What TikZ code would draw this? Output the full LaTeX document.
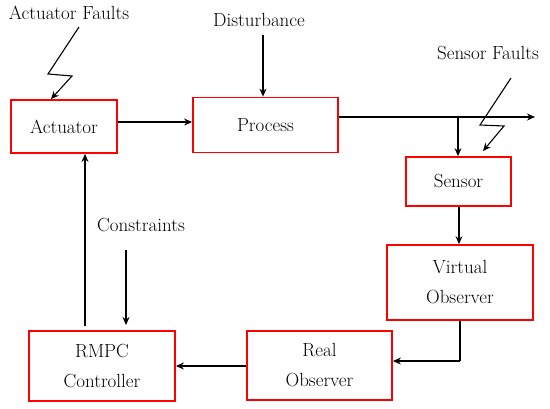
\documentclass[tikz,border=0pt]{standalone}
\usetikzlibrary{arrows.meta}
\begin{document}
\begin{tikzpicture}[x=1pt,y=-1pt,
  box/.style={draw=red, line width=1.8pt, align=center, inner sep=0pt, font=\fontsize{19}{30}\selectfont},
  lbl/.style={inner sep=0pt, font=\fontsize{19}{22}\selectfont},
  conn/.style={line width=1.1pt, -{Stealth[length=8pt,width=7pt]}},
  seg/.style={line width=1.1pt}]
\useasboundingbox (0,0) rectangle (550,408);
\node[box, minimum width=106pt, minimum height=53pt] (act) at (64,126.5) {Actuator};
\node[box, minimum width=145pt, minimum height=55pt] (proc) at (265.5,125) {Process};
\node[box, minimum width=105pt, minimum height=49pt] (sens) at (458.5,181.5) {Sensor};
\node[box, minimum width=146pt, minimum height=75pt] (vobs) at (460,282.5) {Virtual\\Observer};
\node[box, minimum width=145pt, minimum height=69pt] (robs) at (319.5,365.5) {Real\\Observer};
\node[box, minimum width=146pt, minimum height=70pt] (rmpc) at (102,366) {RMPC\\Controller};
\node[lbl] (af) at (69,13) {Actuator Faults};
\node[lbl] (dist) at (259,20) {Disturbance};
\node[lbl] (sf) at (488,53) {Sensor Faults};
\node[lbl] (cons) at (141,225) {Constraints};
% actuator -> process
\draw[conn] (act.east |- 0,122) -- (proc.west |- 0,122);
% disturbance
\coordinate (d0) at (263,35);
\draw[conn] (d0) -- (proc.north -| d0);
% process output
\coordinate (out) at (535,117);
\draw[conn] (proc.east |- out) -- (out);
\coordinate (br) at (458,117);
\draw[conn] (br) -- (sens.north -| br);
% sensor -> virtual
\draw[conn] (sens.south -| 459,0) -- (vobs.north -| 459,0);
% virtual -> real
\coordinate (vr) at (460,361);
\draw[seg] (vobs.south -| vr) -- (vr);
\draw[conn] (vr) -- (robs.east |- vr);
% real -> rmpc
\draw[conn] (robs.west |- 0,366) -- (rmpc.east |- 0,366);
% rmpc -> actuator
\coordinate (ra) at (85,326);
\draw[conn] (ra) -- (act.south -| ra);
% constraints
\coordinate (c0) at (126,250);
\draw[conn] (c0) -- (126,325);
% actuator faults lightning
\coordinate (a1) at (79,27);
\coordinate (a2) at (48,74);
\coordinate (a3) at (72,76);
\draw[conn, line join=miter] (a1) -- (a2) -- (a3) -- (act.north -| 51,0);
% sensor faults lightning
\coordinate (s1) at (511,78);
\coordinate (s2) at (480,125);
\coordinate (s3) at (504,126);
\draw[conn, line join=miter] (s1) -- (s2) -- (s3) -- (483,151);
\end{tikzpicture}
\end{document}
